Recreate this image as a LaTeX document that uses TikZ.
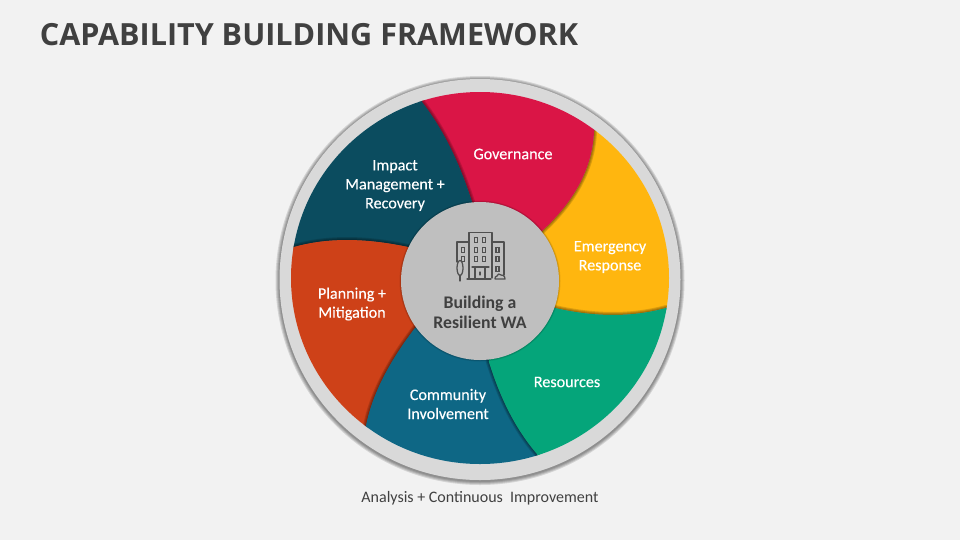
\documentclass[tikz,border=0pt]{standalone}
\usepackage{fontspec}
\setmainfont{Carlito}
\newfontfamily\titlefont{Open Sans}
\definecolor{bgc}{HTML}{F2F2F2}
\definecolor{ringc}{HTML}{D9D9D9}
\definecolor{hubc}{HTML}{BFBFBF}
\definecolor{redc}{HTML}{DA1546}
\definecolor{yelc}{HTML}{FFB60F}
\definecolor{grnc}{HTML}{05A57A}
\definecolor{tealc}{HTML}{0E6785}
\definecolor{darkc}{HTML}{0B4C5F}
\definecolor{orgc}{HTML}{CE4118}
\definecolor{inkc}{HTML}{404040}
\definecolor{iconc}{HTML}{505050}
\tikzset{
  x=0.75pt,y=-0.75pt,
  seglabel/.style={text=white,font=\fontsize{12.1}{14.25}\selectfont\addfontfeature{FakeBold=0.25},align=center,inner sep=0pt},
  hublabel/.style={text=inkc,font=\fontsize{13.3}{15}\selectfont\bfseries,align=center,inner sep=0pt},
  iconline/.style={draw=iconc,line width=0.95pt,line cap=round,line join=round},
  iconwin/.style={draw=iconc,line width=0.9pt},
}
\newcommand{\softfill}[2]{%
  \foreach \w in {6,4,2}{\draw[line width=\w*0.75pt,black,opacity=0.14,line join=round] #2;}
  \fill[#1] #2;}
\newcommand{\softring}[4]{%
  \foreach \w in {#3}{\draw[line width=\w*0.75pt,black,opacity=#4] (480,#1) circle[radius=#2*0.75pt];}}
\begin{document}
\begin{tikzpicture}
\useasboundingbox (0,0) rectangle (960,540);
\fill[bgc] (0,0) rectangle (960,540);
\node[font=\titlefont\bfseries\fontsize{22.9}{28}\selectfont,text=inkc,inner sep=0pt] (title) at (309,35) {CAPABILITY BUILDING FRAMEWORK};
% outer ring
\softring{280.5}{200.5}{8,6,4,2}{0.12}
\fill[ringc] (480,279.5) circle[radius=200.5*0.75pt];
\begin{scope}
\clip (480,278) ellipse[x radius=189*0.75pt,y radius=186*0.75pt];
\coordinate (ctr) at (480,280);
\def\segY{(ctr) -- (542,231) .. controls (575.3,200.3) and (592.7,167) .. (594,131) -- (628,86) -- (722,316) -- (666,308) .. controls (632.3,317.3) and (595.3,317.3) .. (555,308) -- cycle}
\def\segR{(ctr) -- (472,202) .. controls (459.3,162) and (442.7,128.7) .. (422,102) -- (405,49) -- (628,86) -- (594,131) .. controls (592.7,167) and (575.3,200.3) .. (542,231) -- cycle}
\def\segD{(ctr) -- (408,247) .. controls (364.3,237.7) and (326.7,237.7) .. (294,247) -- (238,237) -- (405,49) -- (422,102) .. controls (442.7,128.7) and (459.3,162) .. (472,202) -- cycle}
\def\segO{(ctr) -- (415,328) .. controls (390.3,360.3) and (372.3,393.3) .. (366,426) -- (332,470) -- (238,237) -- (294,247) .. controls (326.7,237.7) and (364.3,237.7) .. (408,247) -- cycle}
\def\segT{(ctr) -- (489,362) .. controls (501,400.7) and (517,430.7) .. (537,454) -- (554,506) -- (332,470) -- (366,426) .. controls (372.3,393.3) and (390.3,360.3) .. (415,328) -- cycle}
\def\segG{(ctr) -- (555,308) .. controls (595.3,317.3) and (632.3,317.3) .. (666,308) -- (722,316) -- (554,506) -- (537,454) .. controls (517,430.7) and (501,400.7) .. (489,362) -- cycle}
\fill[yelc] \segY;
\softfill{redc}{\segR}
\softfill{darkc}{\segD}
\softfill{orgc}{\segO}
\softfill{tealc}{\segT}
\softfill{grnc}{\segG}
\end{scope}
% hub
\softring{281}{79}{3,1.5}{0.10}
\fill[hubc] (480,281) circle[radius=79*0.75pt];
% icon
\draw[iconline] (469,278) -- (469,232.5) -- (492,232.5) -- (492,278);
\draw[iconline] (468,242) -- (457,242) -- (457,262);
\draw[iconline] (493,242) -- (504,242) -- (504,275);
\draw[iconline] (467,279) -- (491,279);
\draw[iconline] (472,267) -- (489,267);
\draw[iconline] (475,267) -- (475,278) (485,267) -- (485,278) (480,272) -- (480,275);
\draw[iconline] (460,268) ellipse[x radius=3*0.75pt,y radius=7.5*0.75pt];
\draw[iconline] (460,275) -- (460,281);
\draw[iconline] (495,279) -- (505,279) .. controls (505,275) and (502,275) .. (501,275) .. controls (500,273) and (497,274) .. (497,276) .. controls (495,276) and (495,278) .. (495,279);
\foreach \px/\py in {476/240,484/240,476/250,484/250,476/259,484/259,463/250,463/259,497.5/250,497.5/259,497.5/269}{
  \draw[iconwin] (\px-1.5,\py-2.5) rectangle (\px+1.5,\py+2.5);}
% labels
\node[hublabel] (hub) at (480,312.5) {Building a\\Resilient WA};
\node[seglabel] (gov) at (513,154) {Governance};
\node[seglabel] (eme) at (610,257) {Emergency\\Response};
\node[seglabel] (res) at (567,382) {Resources};
\node[seglabel] (com) at (448,404) {Community\\Involvement};
\node[seglabel] (pla) at (352,304) {Planning +\\Mitigation};
\node[seglabel] (imp) at (395,185.5) {Impact\\Management +\\Recovery};
\node[text=inkc,font=\fontsize{12}{14}\selectfont,inner sep=0pt] (foot) at (480,498.5) {Analysis + Continuous\ \ Improvement};
\end{tikzpicture}
\end{document}
